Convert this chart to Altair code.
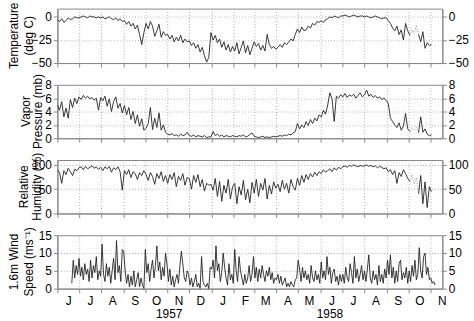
import altair as alt
import pandas as pd

# ---------------- data ----------------
SERIES_START = "1957-06-01"   # temperature / vapour / humidity, one value every 3 days
SERIES_STEP = 3
temperature = [
    -3, -5, -2, -6, -4, -1, -3, -2, 0, -1,
    -1, 0, 1, 0, -1, 1, 0, 0, -1, 0,
    -1, 0, -2, -1, 0, -2, -3, -1, -4, -2, -5,
    -4, -8, -5, -10, -7, -13, -9, -19, -30, -17,
    -7, -13, -5, -10, -21, -15, -8, -22, -16, -20,
    -19, -24, -20, -27, -22, -26, -20, -28, -24, -27,
    -26, -31, -28, -34, -30, -38, -33, -42, -49, -44,
    -17, -25, -20, -28, -24, -33, -27, -36, -30, -38, -32,
    -37, -28, -40, -33, -26, -39, -31, -41, -34,
    -27, -32, -29, -36, -31, -37, -19, -30, -34, -32,
    -35, -33, -30, -33, -28, -30, -27, -24, -26, -19,
    -13, -17, -11, -15, -14, -10, -12, -7, -9, -5, -6,
    -4, -6, -3, -2, 0, -1, 1, 0, -1, 1,
    1, 2, 1, 0, 1, 2, 1, 0, 1, 1,
    0, 1, 0, -1, 0, 1, 0, -1, -2, -1,
    -1, -4, -7, -12, -15, -10, -19, -14, -25, -7,
    -15, -20, -14, -18, -9, -19, -27, -16, -34, -28, -31, -30,
]
vapor = [
    5.0, 4.2, 5.5, 3.2, 4.5, 3.0, 5.8, 4.6, 6.0, 5.2,
    6.2, 5.8, 6.4, 6.0, 6.3, 5.9, 6.1, 5.7, 6.0, 4.2,
    6.1, 5.6, 6.3, 4.8, 5.9, 4.0, 5.5, 6.2, 4.5, 5.2, 3.8,
    4.9, 3.5, 4.6, 2.8, 4.0, 2.2, 3.5, 1.8, 2.9, 1.2,
    1.5, 2.2, 4.6, 1.3, 3.0, 1.6, 3.8, 1.2, 2.0, 0.9,
    0.6, 0.5, 0.7, 0.4, 0.5, 0.3, 0.6, 0.4, 0.5, 0.9,
    0.4, 0.3, 0.5, 0.2, 0.4, 0.3, 0.2, 0.4, 0.1, 0.2,
    0.2, 1.0, 0.4, 0.6, 0.3, 0.5, 0.2, 0.4, 0.3, 0.2, 0.4,
    0.3, 0.2, 0.4, 0.3, 0.5, 0.2, 0.3, 0.6, 0.8,
    0.3, 0.2, 0.1, 0.2, 0.3, 0.1, 0.2, 0.1, 0.2, 0.3,
    0.2, 0.3, 0.4, 0.3, 0.5, 0.4, 0.6, 0.5, 0.8, 1.0,
    2.2, 1.4, 2.0, 1.6, 2.5, 1.9, 2.8, 2.2, 3.0, 2.6, 3.5,
    3.2, 4.2, 3.6, 5.0, 6.8, 5.9, 2.5, 6.3, 6.0, 6.5,
    6.2, 6.7, 6.1, 6.5, 6.3, 6.6, 6.0, 6.4, 6.8, 6.2,
    6.5, 7.2, 6.3, 6.6, 6.1, 6.4, 6.0, 6.2, 5.8, 6.0,
    5.7, 5.2, 3.0, 2.5, 2.0, 1.6, 2.3, 1.2, 1.8, 3.7,
    1.4, 1.0, 1.5, 1.2, 1.6, 0.8, 3.2, 0.9, 1.4, 0.6, 0.4, 0.5,
]
humidity = [
    90, 84, 62, 88, 80, 93, 86, 78, 91, 88,
    94, 96, 90, 97, 92, 95, 98, 93, 96, 91,
    95, 88, 96, 92, 97, 85, 94, 90, 96, 86, 48,
    88, 80, 90, 74, 86, 82, 70, 84, 78, 88,
    80, 68, 84, 76, 60, 82, 72, 86, 66, 78,
    62, 80, 70, 84, 55, 76, 68, 82, 58, 74,
    72, 50, 78, 64, 80, 55, 70, 46, 62, 58,
    60, 48, 72, 35, 66, 25, 58, 42, 70, 30, 55,
    62, 20, 55, 38, 68, 28, 50, 22, 64,
    42, 70, 35, 62, 48, 72, 30, 58, 40, 65,
    52, 60, 45, 68, 50, 62, 42, 70, 55, 48,
    72, 58, 78, 64, 80, 70, 82, 75, 85, 78, 86,
    82, 90, 85, 88, 92, 86, 94, 89, 95, 92,
    96, 98, 95, 99, 97, 100, 98, 96, 99, 97,
    98, 100, 97, 99, 96, 98, 94, 97, 95, 92,
    94, 86, 90, 80, 88, 62, 84, 76, 90, 82,
    72, 66, 80, 60, 74, 40, 78, 20, 65, 12, 55, 45,
]
WIND_START = "1957-06-21"     # one value every 2 days
WIND_STEP = 2
wind = [
    1.5, 8.0, 3.0, 6.5, 4.0,
    8.5, 3.5, 6.0, 2.5, 7.0, 4.0, 5.5, 2.0, 8.0, 3.0, 6.5, 4.5, 9.0, 2.5, 5.0, 3.5,
    12.5, 4.0, 2.0, 7.0, 3.5, 6.0, 1.5, 5.0, 8.5, 2.5, 13.5, 4.5, 6.5, 2.0, 11.0,
    10.5, 5.0, 1.5, 4.0, 0.5, 3.5, 1.0, 5.0, 0.5, 2.5, 4.5, 0.5, 3.0, 1.0, 0.0,
    11.0, 4.5, 7.0, 2.0, 5.5, 8.0, 3.0, 6.5, 12.0, 5.0, 7.5, 2.5, 6.0, 3.5, 10.0, 7.0,
    2.0, 5.5, 1.0, 3.5, 0.5, 2.5, 4.0, 1.5, 6.5, 10.5, 7.0, 3.0, 2.0, 5.0, 4.0,
    1.0, 3.0, 0.5, 2.0, 4.0, 0.5, 1.5, 0.0, 9.0, 2.0, 1.0, 0.5, 1.5, 0.0, 6.0,
    5.5, 8.0, 3.0, 12.0, 5.0, 7.0, 2.0, 4.5, 10.0, 6.0, 3.0, 1.0, 7.0, 2.5, 4.0, 1.5,
    11.0, 5.0, 2.0, 9.0, 5.0, 3.0, 1.0, 4.0, 1.5, 3.0, 6.5, 2.0, 4.0, 9.0,
    3.0, 6.0, 2.0, 5.5, 3.0, 6.5, 4.0, 2.0, 5.0, 3.5, 6.0, 2.5, 4.5, 1.5, 3.0,
    2.5, 4.0, 1.5, 3.5, 1.0, 2.0, 3.0, 0.5, 1.5, 0.5, 2.0, 1.0, 0.5, 2.5, 3.0,
    8.0, 5.5, 2.0, 6.0, 3.0, 5.0, 2.5, 4.0, 1.5, 6.5, 3.0, 2.0, 5.0, 2.5, 4.0, 1.5,
    7.5, 3.0, 5.0, 2.5, 9.0, 4.0, 6.0, 1.5, 4.5, 5.5, 2.0, 3.5, 1.0, 4.0, 2.0,
    4.0, 1.5, 6.0, 3.0, 2.0, 7.0, 4.5, 1.5, 9.0, 3.0, 5.5, 2.0, 4.0, 6.5, 2.5, 5.0,
    2.0, 5.5, 9.5, 3.0, 1.5, 5.0, 2.5, 4.0, 1.0, 6.5, 2.0, 4.0, 1.5, 5.5, 3.0,
    8.0, 4.0, 9.5, 3.0, 6.0, 1.5, 5.0, 2.0, 7.0, 8.0, 2.5, 4.5, 3.0, 6.0, 1.5,
    5.0, 2.0, 6.5, 3.5, 8.0, 2.5, 4.0, 11.5, 5.0, 3.0, 9.0, 10.0, 4.0, 6.0, 2.5,
    3.0, 1.5, 2.0, 1.0,
]
DOT_START, DOT_END = "1958-10-02", "1958-10-16"   # dotted (gap-filled) stretch
year_labels = ["1957", "1958"]
year_dates = ["1957-11-03", "1958-06-14"]
titles = {
    "t": ["Temperature", "(deg C)"],
    "vp": ["Vapor", "Pressure (mb)"],
    "rh": ["Relative", "Humidity (%)"],
    "w": ["1.6m Wind", "Speed (ms⁻¹)"],
}

# ---------------- helpers ----------------
FONT = "Liberation Sans"
W = 389
LINE = "#222222"
GRID = "#b0b0b0"
AXC = "#888888"


def dt(y, m, d):
    return alt.DateTime(year=y, month=m, date=d, utc=True)


month_ticks = [dt(ts.year, ts.month, 1) for ts in pd.date_range("1957-06-01", "1958-11-01", freq="MS")]
x_scale = alt.Scale(type="utc", domain=[dt(1957, 6, 1), dt(1958, 11, 17)])


def x_enc(bottom):
    ax = alt.Axis(
        values=month_ticks, grid=True, gridDash=[1, 2], gridColor=GRID,
        domainColor=AXC, tickColor=AXC, tickSize=4, title=None,
        labels=bottom,
        labelExpr="substring(utcFormat(datum.value, '%b'), 0, 1)", labelOffset=11,
        labelFontSize=12, labelColor="black", labelPadding=3,
        labelOverlap=False, labelBound=False, labelFlush=False,
    )
    return alt.X("date:T", scale=x_scale, axis=ax)


def frame(values, start, step, dotted):
    dates = pd.date_range(start, periods=len(values), freq=f"{step}D")
    df = pd.DataFrame({"date": dates.strftime("%Y-%m-%d"), "v": values})
    if not dotted:
        return df.assign(seg="a"), None
    i0 = int((dates >= pd.Timestamp(DOT_START)).argmax())
    i1 = int(len(dates) - 1 - (dates[::-1] <= pd.Timestamp(DOT_END)).argmax())
    solid = pd.concat([df.iloc[: i0 + 1].assign(seg="a"), df.iloc[i1:].assign(seg="b")])
    return solid, df.iloc[i0: i1 + 1]


def title_layer(text, xpix, height):
    return alt.Chart(pd.DataFrame({"t": [text]})).mark_text(
        angle=270, fontSize=12, font=FONT, color="black", align="center", baseline="middle"
    ).encode(x=alt.value(xpix), y=alt.value(height / 2), text="t:N")


def panel(values, start, step, dotted, domain, ticks, title, height, bottom, tx):
    solid, dot = frame(values, start, step, dotted)
    ys = alt.Scale(domain=domain, nice=False, zero=False)
    left = alt.Axis(values=ticks, grid=True, gridDash=[1, 2], gridColor=GRID,
                    domainColor=AXC, tickColor=AXC, tickSize=4, labelFontSize=12,
                    labelColor="black", labelPadding=2, title=None)
    right = alt.Axis(values=ticks, grid=False, orient="right", domainColor=AXC,
                     tickColor=AXC, tickSize=4, labelFontSize=12, labelColor="black",
                     labelPadding=2, title=None)
    base = alt.Chart(solid).mark_line(color=LINE, strokeWidth=0.9, clip=True).encode(
        x=x_enc(bottom), y=alt.Y("v:Q", scale=ys, axis=left), detail="seg:N")
    ghost = alt.Chart(solid).mark_line(opacity=0, strokeWidth=0).encode(
        x=x_enc(bottom), y=alt.Y("v:Q", scale=ys, axis=right), detail="seg:N")
    layers = [base, ghost]
    if dot is not None:
        layers.append(alt.Chart(dot).mark_line(color="#777777", strokeWidth=0.8,
                                               strokeDash=[1, 1.5]).encode(
            x=x_enc(bottom), y=alt.Y("v:Q", scale=ys, axis=None)))
    if bottom:
        yl = pd.DataFrame({"date": year_dates, "label": year_labels})
        layers.append(alt.Chart(yl).mark_text(fontSize=12, font=FONT, color="black").encode(
            x=x_enc(bottom), y=alt.value(height + 26), text="label:N"))
    layers.append(title_layer(title[0], tx[0], height))
    layers.append(title_layer(title[1], tx[1], height))
    return alt.layer(*layers).resolve_axis(y="independent").properties(width=W, height=height)


p1 = panel(temperature, SERIES_START, SERIES_STEP, True, [-50, 9], [-50, -25, 0],
           titles["t"], 55, False, (-44, -29))
p2 = panel(vapor, SERIES_START, SERIES_STEP, True, [0, 8], [0, 2, 4, 6, 8],
           titles["vp"], 54, False, (-32, -20))
p3 = panel(humidity, SERIES_START, SERIES_STEP, True, [0, 110], [0, 50, 100],
           titles["rh"], 54, False, (-34, -21))
p4 = panel(wind, WIND_START, WIND_STEP, False, [0, 15], [0, 5, 10, 15],
           titles["w"], 54, True, (-44, -29))

chart = alt.vconcat(p1, p2, p3, p4, spacing=22, bounds="flush").configure(
    font=FONT, padding={"left": 7, "top": 0, "right": 5, "bottom": 0}
).configure_view(stroke=AXC, strokeWidth=1).configure_axis(labelFont=FONT, titleFont=FONT)

chart.save("out.html", embed_options={"renderer": "svg", "actions": False})
